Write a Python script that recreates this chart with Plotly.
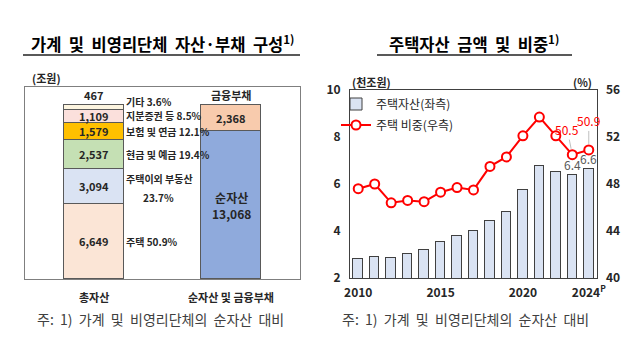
import plotly.graph_objects as go

# ---------------- data ----------------
# Left: household & NPISH asset / liability composition (조원)
asset_items = ["주택", "주택이외 부동산", "현금 및 예금", "보험 및 연금", "지분증권 등", "기타"]
asset_values = [6649, 3094, 2537, 1579, 1109, 467]
asset_shares = [50.9, 23.7, 19.4, 12.1, 8.5, 3.6]
asset_colors = ["#fbe5d6", "#dae3f3", "#c5e0b4", "#ffc000", "#fbe0dc", "#fdf5e0"]

liab_items = ["순자산", "금융부채"]
liab_values = [13068, 2368]
liab_colors = ["#8faadc", "#f8cbad"]

bar_categories = ["총자산", "순자산 및 금융부채"]

# Right: housing assets (천조원) and share (%)
years = list(range(2010, 2025))
housing_assets = [2.80, 2.91, 2.87, 3.02, 3.19, 3.52, 3.79, 3.99, 4.43, 4.82, 5.74, 6.78, 6.50, 6.38, 6.62]
housing_share = [47.6, 48.0, 46.4, 46.6, 46.5, 47.3, 47.7, 47.5, 49.5, 50.3, 52.1, 53.7, 52.1, 50.5, 50.9]
year_ticks = [2010, 2015, 2020, 2024]
year_ticktext = ["2010", "2015", "2020", "2024<sup>P</sup>"]

FONT = "Noto Sans CJK KR"
W, H = 640, 360
NB = "\u00a0"
def gap(s):
    return s.replace(" ", " " + NB)
def px(x):
    return x / W
def py(y):
    return 1 - y / H

fig = go.Figure()

# ---------- left stacked bars ----------
BW = 0.436
for name, val, col in zip(asset_items, asset_values, asset_colors):
    fig.add_trace(go.Bar(x=[0], y=[val], name=name, marker=dict(color=col, line=dict(color="#595959", width=1)),
                         width=BW, showlegend=False, xaxis="x", yaxis="y", hoverinfo="skip"))
for name, val, col in zip(liab_items, liab_values, liab_colors):
    fig.add_trace(go.Bar(x=[1], y=[val], name=name, marker=dict(color=col, line=dict(color="#595959", width=1)),
                         width=BW, showlegend=False, xaxis="x", yaxis="y", hoverinfo="skip"))

# ---------- right chart ----------
fig.add_trace(go.Bar(x=years, y=housing_assets, name="주택자산(좌측)", width=0.58,
                     marker=dict(color="#dae3f3", line=dict(color="#404040", width=1)),
                     xaxis="x2", yaxis="y2", legend="legend"))
fig.add_trace(go.Scatter(x=years, y=housing_share, name="주택 비중(우측)", mode="lines+markers",
                         line=dict(color="#ff0000", width=2),
                         marker=dict(symbol="circle", size=9, color="white", line=dict(color="#ff0000", width=2)),
                         xaxis="x2", yaxis="y3", legend="legend2"))

ann = []
dark = "#262626"
def A(**kw):
    kw.setdefault("showarrow", False)
    kw.setdefault("xanchor", "center")
    kw.setdefault("yanchor", "middle")
    ann.append(kw)

LBL = 10
# values inside left bars
cum = 0
for i, (name, val, share) in enumerate(zip(asset_items, asset_values, asset_shares)):
    mid = cum + val / 2
    top = cum + val
    if i < len(asset_items) - 1:
        A(x=0, y=mid, xref="x", yref="y", text=f"<b>{val:,}</b>", font=dict(family=FONT, size=11, color=dark))
    else:
        A(x=0, y=top, xref="x", yref="y", text=f"<b>{val:,}</b>", yanchor="bottom", yshift=-1,
          font=dict(family=FONT, size=11, color=dark))
    if name == "주택이외 부동산":
        A(x=0, y=mid, xref="x", yref="y", text=f"<b>{name}</b>", xanchor="left", xshift=30, yshift=8,
          font=dict(family=FONT, size=LBL, color=dark))
        A(x=0, y=mid, xref="x", yref="y", text=f"<b>{share}%</b>", xshift=65, yshift=-11,
          font=dict(family=FONT, size=LBL, color=dark))
    else:
        ys = 6 if i == len(asset_items) - 1 else 0
        A(x=0, y=mid, xref="x", yref="y", text=f"<b>{name} {share}%</b>", xanchor="left", xshift=30, yshift=ys,
          font=dict(family=FONT, size=LBL, color=dark))
    cum = top

cum = 0
for i, (name, val) in enumerate(zip(liab_items, liab_values)):
    mid = cum + val / 2
    top = cum + val
    if i == 0:
        A(x=1, y=mid, xref="x", yref="y", text=f"<b>{name}<br>{val:,}</b>", font=dict(family=FONT, size=12, color=dark))
    else:
        A(x=1, y=mid, xref="x", yref="y", text=f"<b>{val:,}</b>", font=dict(family=FONT, size=11, color=dark))
        A(x=1, y=top, xref="x", yref="y", text=f"<b>{name}</b>", yanchor="bottom", yshift=-1,
          font=dict(family=FONT, size=11, color=dark))
    cum = top

for i, c in enumerate(bar_categories):
    A(x=i, y=py(297), xref="x", yref="paper", text=f"<b>{c}</b>", font=dict(family=FONT, size=11, color=dark))

A(x=px(30), y=py(78), xref="paper", yref="paper", text="<b>(조원)</b>", xanchor="left",
  font=dict(family=FONT, size=11, color=dark))

# titles
A(x=px(162), y=py(43), xref="paper", yref="paper",
  text="<b>" + gap("가계 및 비영리단체 자산·부채 구성") + "<sup>1)</sup></b>",
  font=dict(family=FONT, size=16.5, color="#000000"))
A(x=px(474), y=py(43), xref="paper", yref="paper",
  text="<b>" + gap("주택자산 금액 및 비중") + "<sup>1)</sup></b>",
  font=dict(family=FONT, size=16.5, color="#000000"))

# footnotes
for x0 in (35, 340):
    A(x=px(x0), y=py(319), xref="paper", yref="paper", text=gap("주: 1) 가계 및 비영리단체의 순자산 대비"),
      xanchor="left", font=dict(family=FONT, size=14, color="#404040"))

# right chart unit labels
A(x=px(350), y=py(82), xref="paper", yref="paper", text="<b>(천조원)</b>", xanchor="left",
  font=dict(family=FONT, size=11, color=dark))
A(x=px(594), y=py(82), xref="paper", yref="paper", text="<b>(%)</b>", xanchor="right",
  font=dict(family=FONT, size=11, color=dark))

# last two values labelled
label_offsets = {2023: (-5, -25), 2024: (0, -29)}
for yr in (2023, 2024):
    i = years.index(yr)
    axo, ayo = label_offsets[yr]
    A(x=yr, y=housing_assets[i], xref="x2", yref="y2", text=f"{housing_assets[i]:.1f}", yanchor="bottom",
      font=dict(family=FONT, size=12, color="#595959"))
    A(x=yr, y=housing_share[i], xref="x2", yref="y3", text=f"{housing_share[i]:.1f}",
      showarrow=True, arrowhead=0, arrowwidth=1, arrowcolor="#bfbfbf", ax=axo, ay=ayo, standoff=6,
      font=dict(family=FONT, size=12, color="#ff0000"))

tick_font = dict(family=FONT, size=12, color=dark, weight="bold")
fig.update_layout(
    template="none",
    width=W, height=H, margin=dict(l=0, r=0, t=0, b=0, pad=0), autosize=False,
    paper_bgcolor="white", plot_bgcolor="white",
    barmode="stack", bargap=0,
    font=dict(family=FONT, color=dark),
    annotations=ann,
    shapes=[
        dict(type="line", xref="paper", yref="paper", x0=px(23), x1=px(300), y0=py(55), y1=py(55),
             line=dict(color="#595959", width=2)),
        dict(type="line", xref="paper", yref="paper", x0=px(377), x1=px(572), y0=py(55), y1=py(55),
             line=dict(color="#595959", width=2)),
    ],
    xaxis=dict(domain=[px(25), px(300)], range=[-0.5, 1.5], showticklabels=False, showgrid=False,
               zeroline=False, showline=True, mirror=True, linecolor="#7f7f7f", linewidth=1, anchor="y",
               ticks="", automargin=False),
    yaxis=dict(domain=[py(279), py(86.7)], range=[0, 17000], showticklabels=False, showgrid=False,
               zeroline=False, showline=True, mirror=True, linecolor="#7f7f7f", linewidth=1, anchor="x",
               ticks="", automargin=False),
    xaxis2=dict(domain=[px(350), px(597)], range=[2009.5, 2024.5], tickvals=year_ticks, ticktext=year_ticktext,
                showgrid=False, zeroline=False, showline=True, mirror=True, linecolor="#404040", linewidth=1,
                anchor="y2", ticks="", tickfont=tick_font, ticklabelstandoff=4, automargin=False),
    yaxis2=dict(domain=[py(278), py(90)], range=[2, 10], dtick=2, showgrid=False, zeroline=False,
                showline=True, mirror=True, linecolor="#404040", linewidth=1, anchor="x2", ticks="",
                tickfont=tick_font, ticklabelstandoff=6, automargin=False),
    yaxis3=dict(overlaying="y2", side="right", range=[40, 56], dtick=4, showgrid=False, zeroline=False,
                showline=False, anchor="x2", ticks="", tickfont=tick_font, ticklabelstandoff=8, automargin=False),
    legend=dict(x=px(336), y=py(104), xanchor="left", yanchor="middle", bgcolor="rgba(0,0,0,0)",
                font=dict(family=FONT, size=12, color=dark), itemwidth=30),
    legend2=dict(x=px(336), y=py(125), xanchor="left", yanchor="middle", bgcolor="rgba(0,0,0,0)",
                 font=dict(family=FONT, size=12, color=dark), itemwidth=30),
)

fig.write_html("out.html", config={"displayModeBar": False},
               post_script="document.body.style.margin='0px';")
